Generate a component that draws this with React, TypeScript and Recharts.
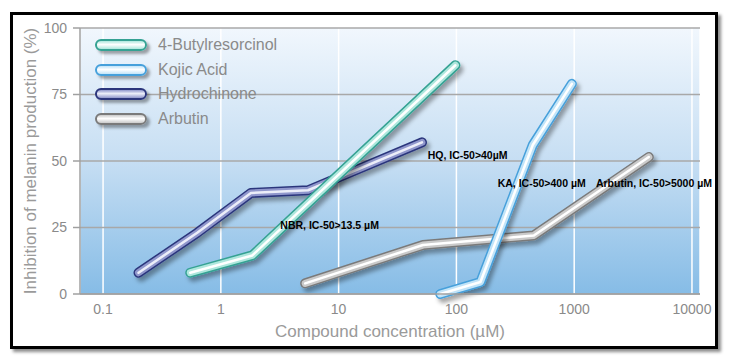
import React from 'react';
import {
  LineChart, Line, XAxis, YAxis, CartesianGrid, ReferenceDot,
} from 'recharts';

// concentrations (µM) and inhibition (%)
const BUTYL_X = [0.55, 1.85, 98];
const BUTYL_Y = [8, 14.5, 86];
const KOJIC_X = [73, 160, 445, 955];
const KOJIC_Y = [0, 4.5, 56, 79];
const HYDRO_X = [0.2, 0.63, 1.8, 5.5, 51];
const HYDRO_Y = [8, 23, 38, 39, 57];
const ARBUTIN_X = [5.2, 52, 454, 4300];
const ARBUTIN_Y = [4, 18.4, 22, 51.5];

const X_TICKS = [0.1, 1, 10, 100, 1000, 10000];
const Y_TICKS = [0, 25, 50, 75, 100];

const NOTE_TEXT = ['HQ, IC-50>40µM', 'NBR, IC-50>13.5 µM', 'KA, IC-50>400 µM', 'Arbutin, IC-50>5000 µM'];
const NOTE_X = [57, 3.2, 224, 1530];
const NOTE_Y = [52, 26, 41.7, 41.7];

const zip = (xs: number[], ys: number[]) => xs.map((x, i) => ({ x, y: ys[i] }));

const SERIES = [
  { name: 'Arbutin', data: zip(ARBUTIN_X, ARBUTIN_Y), edge: '#7a7a7a', body: '#cacaca', light: '#ffffff' },
  { name: 'Hydrochinone', data: zip(HYDRO_X, HYDRO_Y), edge: '#2c367c', body: '#9097cc', light: '#eceef9' },
  { name: '4-Butylresorcinol', data: zip(BUTYL_X, BUTYL_Y), edge: '#35a293', body: '#aee7dd', light: '#ffffff' },
  { name: 'Kojic Acid', data: zip(KOJIC_X, KOJIC_Y), edge: '#46a0db', body: '#c2e4f8', light: '#ffffff' },
];
const LEGEND_ORDER = ['4-Butylresorcinol', 'Kojic Acid', 'Hydrochinone', 'Arbutin'];

const FONT = '"Liberation Sans", Arial, sans-serif';
const GREY = '#8a8a8a';

const App: React.FC = () => {
  return (
    <div style={{ position: 'fixed', left: 0, top: 0, width: 732, height: 357, overflow: 'hidden', background: '#fff', fontFamily: FONT }}>
      <div
        style={{
          position: 'absolute', left: 10, top: 12, width: 702, height: 331,
          border: '3px solid #000', boxShadow: '3px 3px 3px rgba(0,0,0,0.45)',
        }}
      />
      <div style={{ position: 'absolute', left: 0, top: 0 }}>
        <LineChart width={732} height={357} margin={{ top: 28, right: 32, left: 20, bottom: 18 }}>
          <defs>
            <linearGradient id="plotBg" x1="0" y1="0" x2="0" y2="1">
              <stop offset="0%" stopColor="#f1f7fd" />
              <stop offset="50%" stopColor="#c6def3" />
              <stop offset="100%" stopColor="#86bce6" />
            </linearGradient>
            <filter id="tubeShadow" x="-10%" y="-10%" width="130%" height="140%">
              <feDropShadow dx="3" dy="4" stdDeviation="2" floodColor="#000" floodOpacity="0.35" />
            </filter>
          </defs>
          <CartesianGrid horizontal={false} stroke="#ffffff" strokeWidth={1.5} fill="url(#plotBg)" />
          <CartesianGrid vertical={false} stroke="#a8a8a8" strokeWidth={1.5} />
          <XAxis
            dataKey="x"
            type="number"
            scale="log"
            domain={[0.0637, 11700]}
            allowDataOverflow
            ticks={X_TICKS}
            tickFormatter={v => String(v)}
            tick={{ fill: GREY, fontSize: 14, fontFamily: FONT }}
            tickLine={false}
            tickMargin={4}
            axisLine={{ stroke: '#a0a0a0', strokeWidth: 1.5 }}
            height={45}
            label={{ value: 'Compound concentration (µM)', position: 'insideBottom', offset: 2, fill: '#9a9a9a', fontSize: 17, fontFamily: FONT }}
          />
          <YAxis
            type="number"
            domain={[0, 100]}
            ticks={Y_TICKS}
            tick={{ fill: GREY, fontSize: 14, fontFamily: FONT }}
            tickSize={7}
            tickMargin={6}
            tickLine={{ stroke: '#a0a0a0', strokeWidth: 1.5 }}
            axisLine={{ stroke: '#a0a0a0', strokeWidth: 1.5 }}
            width={60}
            label={{ value: 'Inhibition of melanin production (%)', angle: -90, position: 'insideLeft', offset: 10, fill: '#9a9a9a', fontSize: 17, fontFamily: FONT, style: { textAnchor: 'middle' } }}
          />
          {SERIES.map(s => [
            <Line key={s.name + '-edge'} data={s.data} dataKey="y" stroke={s.edge} strokeWidth={10}
              strokeLinecap="round" strokeLinejoin="round" dot={false} activeDot={false}
              filter="url(#tubeShadow)" isAnimationActive={false} />,
            <Line key={s.name + '-body'} data={s.data} dataKey="y" stroke={s.body} strokeWidth={7}
              strokeLinecap="round" strokeLinejoin="round" dot={false} activeDot={false}
              isAnimationActive={false} />,
            <Line key={s.name + '-light'} data={s.data} dataKey="y" stroke={s.light} strokeWidth={2.5}
              strokeLinecap="round" strokeLinejoin="round" dot={false} activeDot={false}
              isAnimationActive={false} />,
          ])}
          {NOTE_TEXT.map((t, i) => (
            <ReferenceDot key={t} x={NOTE_X[i]} y={NOTE_Y[i]} r={0} stroke="none" fill="none"
              label={{ value: t, position: 'right', offset: 0, fill: '#000', fontSize: 10.5, fontFamily: FONT, fontWeight: 600 }} />
          ))}
        </LineChart>
      </div>
      <div style={{ position: 'absolute', left: 95, top: 33 }}>
        {LEGEND_ORDER.map(name => {
          const s = SERIES.find(v => v.name === name)!;
          return (
            <div key={name} style={{ display: 'flex', alignItems: 'center', height: 24.5 }}>
              <div
                style={{
                  width: 48, height: 8, borderRadius: 6, border: `2px solid ${s.edge}`,
                  background: `linear-gradient(to bottom, ${s.body} 0%, ${s.light} 45%, ${s.body} 100%)`,
                  boxShadow: '3px 3px 3px rgba(0,0,0,0.35)',
                }}
              />
              <span style={{ marginLeft: 11, fontSize: 16, color: GREY }}>{name}</span>
            </div>
          );
        })}
      </div>
    </div>
  );
};

export default App;
